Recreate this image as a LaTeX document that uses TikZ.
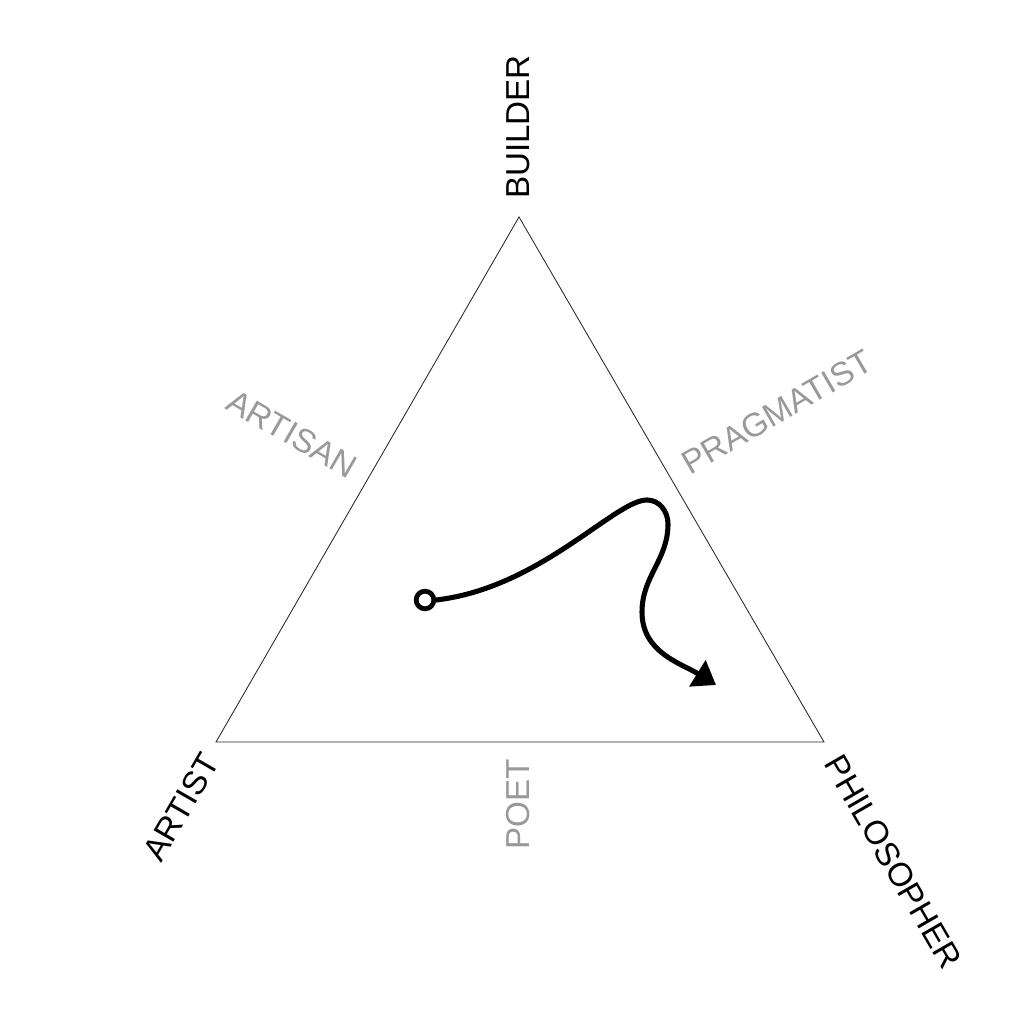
\documentclass[tikz,border=0pt]{standalone}
\usepackage{fontspec}
\setmainfont{Liberation Sans}
\usetikzlibrary{arrows.meta}
\definecolor{lblgray}{gray}{0.6}
\begin{document}
\begin{tikzpicture}[x=0.025cm,y=0.025cm,
  vert/.style={inner sep=0pt, font=\fontsize{23.6}{28}\selectfont, text=black},
  edgelbl/.style={inner sep=0pt, font=\fontsize{23.6}{28}\selectfont, text=lblgray},
  tri/.style={line width=0.6pt, draw=black!85},
  pathline/.style={line width=3.6pt, line cap=round, line join=round}]
\useasboundingbox (0,0) rectangle (1024,1024);
\fill[white] (0,0) rectangle (1024,1024);
% triangle
\coordinate (T) at (519,807);
\coordinate (L) at (216,282);
\coordinate (R) at (824,282);
\draw[tri] (T) -- (L) -- (R) -- cycle;
% vertex labels
\node[vert, rotate=90] (builder) at (518,897) {BUILDER};
\node[vert, rotate=60] (artist) at (181,217) {ARTIST};
\node[vert, rotate=-60] (philosopher) at (893,162) {PHILOSOPHER};
% edge labels
\node[edgelbl, rotate=90] (poet) at (518,220) {POET};
\node[edgelbl, rotate=-30] (artisan) at (292,590) {ARTISAN};
\node[edgelbl, rotate=30] (pragmatist) at (777,612) {PRAGMATIST};
% trajectory
\node[circle, draw, line width=3.4pt, fill=white, minimum size=0.44cm, inner sep=0pt] (start) at (425,424) {};
\coordinate (p) at (647,524);
\coordinate (r) at (668,500);
\coordinate (l) at (642,412);
\coordinate (tip) at (716,339);
\draw[pathline, -{Triangle[length=0.55cm,width=0.75cm]}]
  (start.east) .. controls (540,436) and (615,524) .. (p)
  to[out=0,in=90] (r) to[out=-90,in=90] (l)
  to[out=-90,in=148] (tip);
\end{tikzpicture}
\end{document}
